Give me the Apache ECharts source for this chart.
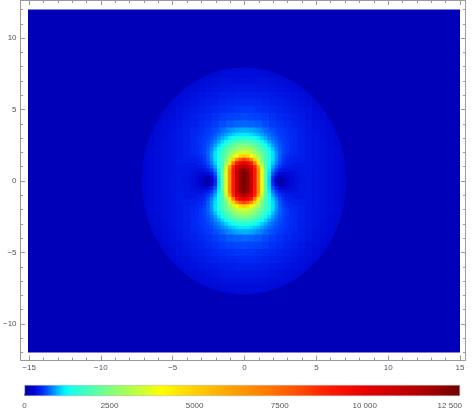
<!DOCTYPE html>
<html>
<head>
<meta charset="utf-8">
<script src="https://cdn.jsdelivr.net/npm/echarts@6/dist/echarts.min.js"></script>
<style>
  html, body { margin: 0; padding: 0; background: #fff; }
  #chart { width: 474px; height: 417px; }
</style>
</head>
<body>
<div id="chart"></div>
<script>
// tick labels
const xMajor = [-15, -10, -5, 0, 5, 10, 15];
const yMajor = [-10, -5, 0, 5, 10];
const barMajor = [0, 2500, 5000, 7500, 10000, 12500];
const barMax = 12800;

// outer edge of the field (semi-axes of the ellipse, data units)
const edge = { rx: 7.1, ry: 7.95 };

// cell centres of the two grids (coarse: 0.5 step, fine: 0.25 step)
const coarseX = [-7,-6.5,-6,-5.5,-5,-4.5,-4,-3.5,-3,-2.5,-2,-1.5,-1,-0.5,0,0.5,1,1.5,2,2.5,3,3.5,4,4.5,5,5.5,6,6.5,7];
const coarseY = [8,7.5,7,6.5,6,5.5,5,4.5,4,3.5,3,2.5,2,1.5,1,0.5,0,-0.5,-1,-1.5,-2,-2.5,-3,-3.5,-4,-4.5,-5,-5.5,-6,-6.5,-7,-7.5,-8];
const fineX = [-3.25,-3,-2.75,-2.5,-2.25,-2,-1.75,-1.5,-1.25,-1,-0.75,-0.5,-0.25,0,0.25,0.5,0.75,1,1.25,1.5,1.75,2,2.25,2.5,2.75,3,3.25];
const fineY = [3.5,3.25,3,2.75,2.5,2.25,2,1.75,1.5,1.25,1,0.75,0.5,0.25,0,-0.25,-0.5,-0.75,-1,-1.25,-1.5,-1.75,-2,-2.25,-2.5,-2.75,-3,-3.25,-3.5];

// values in hundreds, one row per y (top to bottom); coarse rows are centred on x = 0
const coarseRows = [
  [3.1,3.1,3.2,3.2,3.2,3.1,3.1],
  [3.0,3.1,3.2,3.3,3.4,3.4,3.4,3.4,3.4,3.3,3.2,3.1,3.0],
  [3.1,3.2,3.3,3.4,3.5,3.6,3.6,3.7,3.7,3.7,3.6,3.6,3.5,3.4,3.3,3.2,3.1],
  [3.1,3.2,3.3,3.5,3.6,3.8,3.9,4.0,4.1,4.1,4.1,4.0,3.9,3.8,3.6,3.5,3.3,3.2,3.1],
  [3.1,3.2,3.4,3.6,3.8,4.0,4.1,4.3,4.4,4.5,4.5,4.5,4.4,4.3,4.1,4.0,3.8,3.6,3.4,3.2,3.1],
  [3.1,3.2,3.4,3.6,3.8,4.1,4.3,4.5,4.7,4.9,5.0,5.0,5.0,4.9,4.7,4.5,4.3,4.1,3.8,3.6,3.4,3.2,3.1],
  [3.0,3.1,3.3,3.6,3.8,4.1,4.3,4.6,4.9,5.1,5.3,5.5,5.5,5.5,5.3,5.1,4.9,4.6,4.3,4.1,3.8,3.6,3.3,3.1,3.0],
  [3.0,3.2,3.5,3.7,4.0,4.3,4.6,5.0,5.3,5.7,6.0,6.1,6.2,6.1,6.0,5.7,5.3,5.0,4.6,4.3,4.0,3.7,3.5,3.2,3.0],
  [3.0,3.1,3.4,3.6,3.9,4.2,4.5,4.9,5.3,5.8,6.3,6.8,7.1,7.2,7.1,6.8,6.3,5.8,5.3,4.9,4.5,4.2,3.9,3.6,3.4,3.1,3.0],
  [3.0,3.2,3.5,3.7,4.0,4.3,4.7,5.2,5.7,6.4,7.3,8.4,9.2,9.5,9.2,8.4,7.3,6.4,5.7,5.2,4.7,4.3,4.0,3.7,3.5,3.2,3.0],
  [3.0,3.1,3.3,3.5,3.8,4.1,4.4,4.9,5.4,6.0,7.4,9.3,11.8,14,15,14,11.8,9.3,7.4,6.0,5.4,4.9,4.4,4.1,3.8,3.5,3.3,3.1,3.0],
  [3.0,3.1,3.3,3.6,3.8,4.1,4.5,4.9,5.4,6.6,8.9,13.3,19,23,25,23,19,13.3,8.9,6.6,5.4,4.9,4.5,4.1,3.8,3.6,3.3,3.1,3.0],
  [3.0,3.2,3.4,3.6,3.8,4.1,4.5,4.8,5.5,7.1,11.1,17.5,25,33,36,33,25,17.5,11.1,7.1,5.5,4.8,4.5,4.1,3.8,3.6,3.4,3.2,3.0],
  [3.0,3.2,3.4,3.6,3.8,4.1,4.3,4.4,4.9,6.8,11.1,19,33,66,83,66,33,19,11.1,6.8,4.9,4.4,4.3,4.1,3.8,3.6,3.4,3.2,3.0],
  [3.0,3.2,3.4,3.6,3.8,4.1,4.0,4.0,4.2,5.6,9.2,20,58,102,115,102,58,20,9.2,5.6,4.2,4.0,4.0,4.1,3.8,3.6,3.4,3.2,3.0],
  [3.0,3.2,3.4,3.6,3.8,4.0,3.9,3.6,3.2,3.2,6.6,22,67,110,127,110,67,22,6.6,3.2,3.2,3.6,3.9,4.0,3.8,3.6,3.4,3.2,3.0],
  [3.0,3.2,3.4,3.6,3.8,3.9,3.8,3.5,2.4,0.1,4.7,21,66,110,127,110,66,21,4.7,0.1,2.4,3.5,3.8,3.9,3.8,3.6,3.4,3.2,3.0],
  [3.0,3.2,3.4,3.6,3.8,4.0,3.9,3.6,3.2,3.2,6.6,22,67,110,127,110,67,22,6.6,3.2,3.2,3.6,3.9,4.0,3.8,3.6,3.4,3.2,3.0],
  [3.0,3.2,3.4,3.6,3.8,4.1,4.0,4.0,4.2,5.6,9.2,20,58,102,115,102,58,20,9.2,5.6,4.2,4.0,4.0,4.1,3.8,3.6,3.4,3.2,3.0],
  [3.0,3.2,3.4,3.6,3.8,4.1,4.3,4.4,4.9,6.8,11.1,19,33,66,83,66,33,19,11.1,6.8,4.9,4.4,4.3,4.1,3.8,3.6,3.4,3.2,3.0],
  [3.0,3.2,3.4,3.6,3.8,4.1,4.5,4.8,5.5,7.1,11.1,17.5,25,33,36,33,25,17.5,11.1,7.1,5.5,4.8,4.5,4.1,3.8,3.6,3.4,3.2,3.0],
  [3.0,3.1,3.3,3.6,3.8,4.1,4.5,4.9,5.4,6.6,8.9,13.3,19,23,25,23,19,13.3,8.9,6.6,5.4,4.9,4.5,4.1,3.8,3.6,3.3,3.1,3.0],
  [3.0,3.1,3.3,3.5,3.8,4.1,4.4,4.9,5.4,6.0,7.4,9.3,11.8,14,15,14,11.8,9.3,7.4,6.0,5.4,4.9,4.4,4.1,3.8,3.5,3.3,3.1,3.0],
  [3.0,3.2,3.5,3.7,4.0,4.3,4.7,5.2,5.7,6.4,7.3,8.4,9.2,9.5,9.2,8.4,7.3,6.4,5.7,5.2,4.7,4.3,4.0,3.7,3.5,3.2,3.0],
  [3.0,3.1,3.4,3.6,3.9,4.2,4.5,4.9,5.3,5.8,6.3,6.8,7.1,7.2,7.1,6.8,6.3,5.8,5.3,4.9,4.5,4.2,3.9,3.6,3.4,3.1,3.0],
  [3.0,3.2,3.5,3.7,4.0,4.3,4.6,5.0,5.3,5.7,6.0,6.1,6.2,6.1,6.0,5.7,5.3,5.0,4.6,4.3,4.0,3.7,3.5,3.2,3.0],
  [3.0,3.1,3.3,3.6,3.8,4.1,4.3,4.6,4.9,5.1,5.3,5.5,5.5,5.5,5.3,5.1,4.9,4.6,4.3,4.1,3.8,3.6,3.3,3.1,3.0],
  [3.1,3.2,3.4,3.6,3.8,4.1,4.3,4.5,4.7,4.9,5.0,5.0,5.0,4.9,4.7,4.5,4.3,4.1,3.8,3.6,3.4,3.2,3.1],
  [3.1,3.2,3.4,3.6,3.8,4.0,4.1,4.3,4.4,4.5,4.5,4.5,4.4,4.3,4.1,4.0,3.8,3.6,3.4,3.2,3.1],
  [3.1,3.2,3.3,3.5,3.6,3.8,3.9,4.0,4.1,4.1,4.1,4.0,3.9,3.8,3.6,3.5,3.3,3.2,3.1],
  [3.1,3.2,3.3,3.4,3.5,3.6,3.6,3.7,3.7,3.7,3.6,3.6,3.5,3.4,3.3,3.2,3.1],
  [3.0,3.1,3.2,3.3,3.4,3.4,3.4,3.4,3.4,3.3,3.2,3.1,3.0],
  [3.1,3.1,3.2,3.2,3.2,3.1,3.1]
];

const fineRows = [
  [4.9,5.2,5.4,5.7,6.0,6.4,6.7,7.3,7.9,8.4,8.9,9.2,9.5,9.5,9.5,9.2,8.9,8.4,7.9,7.3,6.7,6.4,6.0,5.7,5.4,5.2,4.9],
  [5.0,5.3,5.6,5.9,6.2,6.8,7.4,8.2,8.9,9.7,10.4,11.0,11.4,11.5,11.4,11.0,10.4,9.7,8.9,8.2,7.4,6.8,6.2,5.9,5.6,5.3,5.0],
  [5.1,5.4,5.7,6.0,6.7,7.4,8.2,9.3,10.4,11.8,13,14,15,15,15,14,13,11.8,10.4,9.3,8.2,7.4,6.7,6.0,5.7,5.4,5.1],
  [5.1,5.4,5.8,6.4,7.1,8.1,9.2,10.9,12.7,15,17,19,20,20,20,19,17,15,12.7,10.9,9.2,8.1,7.1,6.4,5.8,5.4,5.1],
  [5.1,5.4,6.0,6.6,7.6,8.9,10.8,13.3,16,19,21,23,25,25,25,23,21,19,16,13.3,10.8,8.9,7.6,6.6,6.0,5.4,5.1],
  [5.1,5.5,6.0,6.9,8.1,10,12.6,15.6,19,22,25,28,29,30,29,28,25,22,19,15.6,12.6,10,8.1,6.9,6.0,5.5,5.1],
  [5.0,5.5,6.1,7.1,8.6,11.1,14,17.5,21,25,29,33,35,36,35,33,29,25,21,17.5,14,11.1,8.6,7.1,6.1,5.5,5.0],
  [4.8,5.1,5.7,6.9,8.8,11.2,14.4,19,23,29,34,40,48,51,48,40,34,29,23,19,14.4,11.2,8.8,6.9,5.7,5.1,4.8],
  [4.6,4.9,5.6,6.8,8.6,11.1,14.4,19,24,33,49,66,78,83,78,66,49,33,24,19,14.4,11.1,8.6,6.8,5.6,4.9,4.6],
  [4.4,4.6,5.2,6.3,8.0,10.4,14,19,28,45,71,90,98,101,98,90,71,45,28,19,14,10.4,8.0,6.3,5.2,4.6,4.4],
  [4.1,4.2,4.6,5.6,7.0,9.2,13,20,34,58,88,102,111,115,111,102,88,58,34,20,13,9.2,7.0,5.6,4.6,4.2,4.1],
  [3.7,3.7,3.9,4.5,5.7,8.0,11.8,22,37,66,91,109,120,124,120,109,91,66,37,22,11.8,8.0,5.7,4.5,3.9,3.7,3.7],
  [3.4,3.2,3.0,3.2,4.3,6.6,11.2,22,37,67,91,110,122,127,122,110,91,67,37,22,11.2,6.6,4.3,3.2,3.0,3.2,3.4],
  [3.2,2.7,1.9,1.4,2.6,5.3,10.8,21.4,37,66,91,110,122,127,122,110,91,66,37,21.4,10.8,5.3,2.6,1.4,1.9,2.7,3.2],
  [3.1,2.4,1.2,0.1,1.7,4.7,10.6,21,37,66,91,110,122,127,122,110,91,66,37,21,10.6,4.7,1.7,0.1,1.2,2.4,3.1],
  [3.2,2.7,1.9,1.4,2.6,5.3,10.8,21.4,37,66,91,110,122,127,122,110,91,66,37,21.4,10.8,5.3,2.6,1.4,1.9,2.7,3.2],
  [3.4,3.2,3.0,3.2,4.3,6.6,11.2,22,37,67,91,110,122,127,122,110,91,67,37,22,11.2,6.6,4.3,3.2,3.0,3.2,3.4],
  [3.7,3.7,3.9,4.5,5.7,8.0,11.8,22,37,66,91,109,120,124,120,109,91,66,37,22,11.8,8.0,5.7,4.5,3.9,3.7,3.7],
  [4.1,4.2,4.6,5.6,7.0,9.2,13,20,34,58,88,102,111,115,111,102,88,58,34,20,13,9.2,7.0,5.6,4.6,4.2,4.1],
  [4.4,4.6,5.2,6.3,8.0,10.4,14,19,28,45,71,90,98,101,98,90,71,45,28,19,14,10.4,8.0,6.3,5.2,4.6,4.4],
  [4.6,4.9,5.6,6.8,8.6,11.1,14.4,19,24,33,49,66,78,83,78,66,49,33,24,19,14.4,11.1,8.6,6.8,5.6,4.9,4.6],
  [4.8,5.1,5.7,6.9,8.8,11.2,14.4,19,23,29,34,40,48,51,48,40,34,29,23,19,14.4,11.2,8.8,6.9,5.7,5.1,4.8],
  [5.0,5.5,6.1,7.1,8.6,11.1,14,17.5,21,25,29,33,35,36,35,33,29,25,21,17.5,14,11.1,8.6,7.1,6.1,5.5,5.0],
  [5.1,5.5,6.0,6.9,8.1,10,12.6,15.6,19,22,25,28,29,30,29,28,25,22,19,15.6,12.6,10,8.1,6.9,6.0,5.5,5.1],
  [5.1,5.4,6.0,6.6,7.6,8.9,10.8,13.3,16,19,21,23,25,25,25,23,21,19,16,13.3,10.8,8.9,7.6,6.6,6.0,5.4,5.1],
  [5.1,5.4,5.8,6.4,7.1,8.1,9.2,10.9,12.7,15,17,19,20,20,20,19,17,15,12.7,10.9,9.2,8.1,7.1,6.4,5.8,5.4,5.1],
  [5.1,5.4,5.7,6.0,6.7,7.4,8.2,9.3,10.4,11.8,13,14,15,15,15,14,13,11.8,10.4,9.3,8.2,7.4,6.7,6.0,5.7,5.4,5.1],
  [5.0,5.3,5.6,5.9,6.2,6.8,7.4,8.2,8.9,9.7,10.4,11.0,11.4,11.5,11.4,11.0,10.4,9.7,8.9,8.2,7.4,6.8,6.2,5.9,5.6,5.3,5.0],
  [4.9,5.2,5.4,5.7,6.0,6.4,6.7,7.3,7.9,8.4,8.9,9.2,9.5,9.5,9.5,9.2,8.9,8.4,7.9,7.3,6.7,6.4,6.0,5.7,5.4,5.2,4.9]
];

// colour scale (value -> colour), same one for the plot and the bar legend
const colorStops = [
  [0, '#000090'], [100, '#0000b4'], [200, '#0000c4'], [300, '#0006d2'], [400, '#0016e4'],
  [500, '#0028f4'], [600, '#0040fc'], [700, '#0060ff'], [850, '#0090ff'], [1000, '#00c0ff'],
  [1150, '#00eeff'], [1300, '#10fff0'], [1600, '#30ffd0'], [2000, '#50ffb0'], [2500, '#80ff80'],
  [3000, '#a8ff55'], [3500, '#d0ff30'], [4000, '#ffff00'], [5000, '#ffd000'], [6000, '#ffa500'],
  [7000, '#ff8000'], [8000, '#ff5000'], [9000, '#ff1800'], [10000, '#e80000'], [11000, '#c80000'],
  [12000, '#a00000'], [12800, '#6e0000']
];

function toRgb(h) {
  return [1, 3, 5].map(i => parseInt(h.slice(i, i + 2), 16));
}
function colorAt(v) {
  for (let i = 1; i < colorStops.length; i++) {
    const [v1, c1] = colorStops[i];
    if (v <= v1) {
      const [v0, c0] = colorStops[i - 1];
      const t = (v - v0) / (v1 - v0);
      const a = toRgb(c0), b = toRgb(c1);
      return 'rgb(' + a.map((x, k) => Math.round(x + (b[k] - x) * t)).join(',') + ')';
    }
  }
  return colorStops[colorStops.length - 1][1];
}
const mapColors = [];
for (let v = 0; v <= barMax; v += 25) mapColors.push(colorAt(v));

function toCells(rows, xs, ys) {
  const out = [];
  rows.forEach((row, j) => {
    const off = (xs.length - row.length) / 2;
    row.forEach((v, i) => out.push([xs[off + i], ys[j], v * 100]));
  });
  return out;
}
const coarseCells = toCells(coarseRows, coarseX, coarseY);
const fineCells = toCells(fineRows, fineX, fineY);

function cellRenderer(step, clipToEdge) {
  return function (params, api) {
    const x = api.value(0), y = api.value(1);
    const a = api.coord([x - step / 2, y + step / 2]);
    const b = api.coord([x + step / 2, y - step / 2]);
    const el = {
      type: 'rect',
      shape: { x: a[0], y: a[1], width: b[0] - a[0] + 0.5, height: b[1] - a[1] + 0.5 },
      style: { fill: api.visual('color') }
    };
    if (clipToEdge) {
      const c = api.coord([0, 0]);
      const s = api.size([edge.rx, edge.ry]);
      el.clipPath = { type: 'ellipse', shape: { cx: c[0], cy: c[1], rx: s[0], ry: s[1] } };
    }
    return el;
  };
}

// layout: plot region and the frame around it
const plot = { left: 28, top: 9.5, width: 432, height: 343 };
const frame = { left: 19.5, top: 0.5, right: 465.5, bottom: 360 };
const xPer = plot.width / 30, yPer = plot.height / 24;
const fx0 = -15 - (plot.left - frame.left) / xPer;
const fx1 = 15 + (frame.right - plot.left - plot.width) / xPer;
const fy1 = 12 + (plot.top - frame.top) / yPer;
const fy0 = -12 - (frame.bottom - plot.top - plot.height) / yPer;

const xMinor = [], yMinor = [], barMinor = [];
for (let v = -15; v <= 15; v++) if (v % 5) xMinor.push(v);
for (let v = -12; v <= 12; v++) if (v % 5) yMinor.push(v);
for (let v = 500; v < barMax; v += 500) if (v % 2500) barMinor.push(v);

const grey = '#9a9a9a';
const labelStyle = { color: '#555', fontSize: 8, fontFamily: 'Liberation Sans, Arial, sans-serif' };
const minus = v => String(v).replace('-', '\u2212');

function frameAxis(extra, major, minor, isMinor, withLabels) {
  return Object.assign({
    type: 'value', gridIndex: 0,
    splitLine: { show: false },
    axisLine: { show: !isMinor, onZero: false, lineStyle: { color: grey, width: 1 } },
    axisTick: { show: true, inside: true, length: isMinor ? 2.5 : 4.5,
      customValues: isMinor ? minor : major, lineStyle: { color: grey } },
    axisLabel: withLabels && !isMinor
      ? Object.assign({ customValues: major, formatter: minus, margin: 4 }, labelStyle)
      : { show: false }
  }, extra);
}

const chart = echarts.init(document.getElementById('chart'), null, { renderer: 'canvas' });
chart.setOption({
  animation: false,
  backgroundColor: '#fff',
  grid: [
    { left: frame.left, top: frame.top, width: frame.right - frame.left, height: frame.bottom - frame.top, show: false },
    { left: plot.left, top: plot.top, width: plot.width, height: plot.height, show: true, backgroundColor: '#0000b8', borderWidth: 0 },
    { left: 24.5, top: 385, width: 435.5, height: 11, show: false }
  ],
  xAxis: [
    frameAxis({ position: 'bottom', min: fx0, max: fx1 }, xMajor, xMinor, false, true),
    frameAxis({ position: 'bottom', min: fx0, max: fx1 }, xMajor, xMinor, true, false),
    frameAxis({ position: 'top', min: fx0, max: fx1 }, xMajor, xMinor, false, false),
    frameAxis({ position: 'top', min: fx0, max: fx1 }, xMajor, xMinor, true, false),
    { type: 'value', gridIndex: 1, min: -15, max: 15, show: false },
    {
      type: 'value', gridIndex: 2, min: 0, max: barMax, position: 'bottom',
      splitLine: { show: false }, axisLine: { show: false },
      axisTick: { show: true, inside: true, length: 3, customValues: barMajor, lineStyle: { color: grey } },
      axisLabel: Object.assign({
        customValues: barMajor, margin: 6,
        formatter: v => v >= 10000 ? Math.floor(v / 1000) + ' ' + String(v % 1000).padStart(3, '0') : String(v)
      }, labelStyle)
    },
    {
      type: 'value', gridIndex: 2, min: 0, max: barMax, position: 'bottom',
      splitLine: { show: false }, axisLine: { show: false },
      axisTick: { show: true, inside: true, length: 2, customValues: barMinor, lineStyle: { color: grey } },
      axisLabel: { show: false }
    }
  ],
  yAxis: [
    frameAxis({ position: 'left', min: fy0, max: fy1 }, yMajor, yMinor, false, true),
    frameAxis({ position: 'left', min: fy0, max: fy1 }, yMajor, yMinor, true, false),
    frameAxis({ position: 'right', min: fy0, max: fy1 }, yMajor, yMinor, false, false),
    frameAxis({ position: 'right', min: fy0, max: fy1 }, yMajor, yMinor, true, false),
    { type: 'value', gridIndex: 1, min: -12, max: 12, show: false },
    { type: 'category', gridIndex: 2, data: ['bar'], show: false }
  ],
  visualMap: {
    type: 'continuous', show: false, min: 0, max: barMax, dimension: 2,
    seriesIndex: [0, 1], inRange: { color: mapColors }
  },
  series: [
    {
      type: 'custom', xAxisIndex: 4, yAxisIndex: 4, z: 2, clip: true, silent: true,
      renderItem: cellRenderer(0.5, true), data: coarseCells
    },
    {
      type: 'custom', xAxisIndex: 4, yAxisIndex: 4, z: 3, clip: true, silent: true,
      renderItem: cellRenderer(0.25, false), data: fineCells
    },
    {
      type: 'bar', xAxisIndex: 5, yAxisIndex: 5, barWidth: '100%', silent: true,
      data: [barMax],
      itemStyle: {
        borderColor: '#b0b0b0', borderWidth: 0.5,
        color: new echarts.graphic.LinearGradient(0, 0, 1, 0,
          colorStops.map(([v, c]) => ({ offset: v / barMax, color: c })))
      }
    }
  ]
});
</script>
</body>
</html>
